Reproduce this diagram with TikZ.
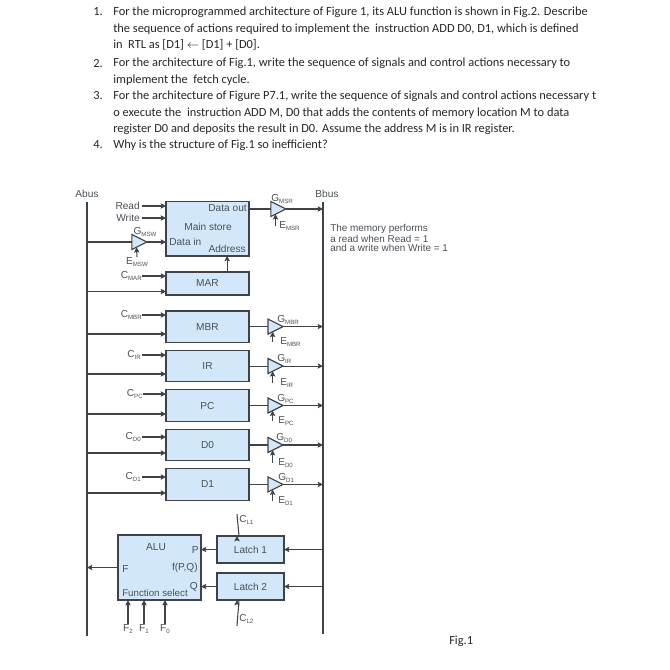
\documentclass[tikz,border=0pt]{standalone}
\usepackage{fontspec}
\setmainfont{Liberation Sans}
\newfontfamily\qfont{Carlito}
\usepackage{xcolor}
\usetikzlibrary{shapes.geometric, arrows.meta, positioning}
\definecolor{boxblue}{HTML}{D2E8FA}
\definecolor{inkgray}{HTML}{3E4348}
\definecolor{labgray}{HTML}{4A4F55}
\newcommand{\sig}[2]{#1\raisebox{-1.5pt}{\fontsize{4.6pt}{4.6pt}\selectfont #2}}

\begin{document}
\begin{tikzpicture}[
        x=0.75pt, y=-0.75pt,
        regbox/.style={rectangle, draw=inkgray, fill=boxblue, line width=1pt, minimum width=62.25pt, minimum height=23.6pt, inner sep=0pt, outer sep=0pt, text=labgray, font=\fontsize{7.6}{8}\selectfont},
        buffer/.style={isosceles triangle, isosceles triangle stretches, draw=inkgray, fill=boxblue, line width=0.9pt, minimum width=11.25pt, minimum height=11.25pt, inner sep=0pt, outer sep=0pt},
        lab/.style={inner sep=0pt, text=labgray, font=\fontsize{7.6}{8}\selectfont},
        qtext/.style={anchor=north west, inner sep=0pt, align=left, text=black!85, font=\qfont\fontsize{9.3}{12.4}\selectfont, execute at begin node=\strut},
        arr/.style={-{Stealth[length=4pt, width=4pt, inset=0.8pt]}, line width=0.8pt, draw=inkgray},
        wire/.style={line width=0.8pt, draw=inkgray},
        bus/.style={line width=1.1pt, draw=inkgray}
    ]
        \useasboundingbox (0,0) rectangle (670,669);

        % questions
        \node[qtext] (n1) at (93,4) {1.};
        \node[qtext] (q1) at (113,7) {For the microprogrammed architecture of Figure 1, its ALU function is shown in Fig.2. Describe\\the sequence of actions required to implement the\ \ instruction ADD D0, D1, which is defined\\in\ \ RTL as [D1] $\leftarrow$ [D1] + [D0].};
        \node[qtext] (n2) at (93,56) {2.};
        \node[qtext] (q2) at (113,58) {For the architecture of Fig.1, write the sequence of signals and control actions necessary to\\implement the\ \ fetch cycle.};
        \node[qtext] (n3) at (93,88) {3.};
        \node[qtext] (q3) at (113,91) {For the architecture of Figure P7.1, write the sequence of signals and control actions necessary t\\o execute the\ \ instruction ADD M, D0 that adds the contents of memory location M to data\\register D0 and deposits the result in D0. Assume the address M is in IR register.};
        \node[qtext] (n4) at (93,137) {4.};
        \node[qtext] (q4) at (113,137) {Why is the structure of Fig.1 so inefficient?};
        \node[qtext] (figlab) at (449,633) {Fig.1};

        % buses
        \coordinate (abustop) at (87,202);
        \coordinate (abusbot) at (87,636);
        \coordinate (bbustop) at (323,202);
        \coordinate (bbusbot) at (323,634);
        \node[lab, above=3pt of abustop] (abuslab) {Abus};
        \node[lab, above=3pt of bbustop, xshift=3pt] (bbuslab) {Bbus};
        \draw[bus] (abustop) -- (abusbot);
        \draw[bus] (bbustop) -- (bbusbot);

        % registers
        \node[regbox, minimum height=41pt] (store) at (207.5,228.5) {};
        \node[regbox, below=12pt of store, minimum height=17.25pt] (mar) {MAR};
        \node[regbox, below=12pt of mar] (mbr) {MBR};
        \node[regbox, below=6pt of mbr] (ir) {IR};
        \node[regbox, below=6pt of ir] (pc) {PC};
        \node[regbox, below=6pt of pc] (dzero) {D0};
        \node[regbox, below=6pt of dzero] (done) {D1};
        \node[lab, anchor=east] (dataout) at (247,208) {Data out};
        \node[lab] (mainstore) at (208,227) {Main store};
        \node[lab, anchor=west] (datain) at (169,242) {Data in};
        \node[lab, anchor=east] (address) at (246,249) {Address};

        % ALU and latches
        \node[regbox, minimum width=62.25pt, minimum height=48.75pt] (alu) at (159.5,567.5) {};
        \node[regbox, minimum width=50.25pt, minimum height=20.25pt] (latchone) at (250.5,549.5) {Latch 1};
        \node[regbox, below=7.5pt of latchone, minimum width=50.25pt, minimum height=20.25pt] (latchtwo) {Latch 2};
        \node[lab] (alulab) at (156,547) {ALU};
        \node[lab, anchor=east] (plab) at (199,550) {P};
        \node[lab, anchor=east] (fpq) at (198,568) {f(P,Q)};
        \node[lab, anchor=west] (flab) at (122,569) {F};
        \node[lab, anchor=east] (qlab) at (198,587) {Q};
        \node[lab, anchor=west, font=\fontsize{7.3}{8}\selectfont] (fsel) at (122,593) {Function select};

        % buffers
        \node[buffer] (gmsr) at (275.5,209) {};
        \node[buffer] (gmsw) at (136.5,242) {};
        \node[buffer, right=14.25pt of mbr] (gmbr) {};
        \node[buffer, right=14.25pt of ir] (gir) {};
        \node[buffer, right=14.25pt of pc] (gpc) {};
        \node[buffer, right=14.25pt of dzero] (gdzero) {};
        \node[buffer, right=14.25pt of done] (gdone) {};

        % signal labels
        \node[lab, anchor=east] (read) at (140,206) {Read};
        \node[lab, anchor=east] (write) at (140,218) {Write};
        \node[lab, anchor=east] (cmar) at (142,276) {\sig{C}{MAR}};
        \node[lab, anchor=east] (cmbr) at (142,315) {\sig{C}{MBR}};
        \node[lab, anchor=east] (cir) at (141,355) {\sig{C}{IR}};
        \node[lab, anchor=east] (cpc) at (143,394) {\sig{C}{PC}};
        \node[lab, anchor=east] (cdzero) at (141,437) {\sig{C}{D0}};
        \node[lab, anchor=east] (cdone) at (141,477) {\sig{C}{D1}};
        \node[lab] (lgmsw) at (145,232) {\sig{G}{MSW}};
        \node[lab, anchor=north] (emsw) at (137,257) {\sig{E}{MSW}};
        \node[lab, anchor=west] (lgmsr) at (271,199) {\sig{G}{MSR}};
        \node[lab, anchor=west] (lgmbr) at (277,320) {\sig{G}{MBR}};
        \node[lab, anchor=west] (lgir) at (277,359) {\sig{G}{IR}};
        \node[lab, anchor=west] (lgpc) at (277,399) {\sig{G}{PC}};
        \node[lab, anchor=west] (lgdzero) at (276,438) {\sig{G}{D0}};
        \node[lab, anchor=west] (lgdone) at (278,478) {\sig{G}{D1}};
        \node[lab, anchor=west] (emsr) at (279,226) {\sig{E}{MSR}};
        \node[lab, anchor=west] (embr) at (280,342) {\sig{E}{MBR}};
        \node[lab, anchor=west] (eir) at (280,383) {\sig{E}{IR}};
        \node[lab, anchor=west] (epc) at (278,421) {\sig{E}{PC}};
        \node[lab, anchor=west] (edzero) at (278,463) {\sig{E}{D0}};
        \node[lab, anchor=west] (edone) at (278,501) {\sig{E}{D1}};
        \node[lab, anchor=west] (clone) at (239,520) {\sig{C}{L1}};
        \node[lab, anchor=west] (cltwo) at (239,619) {\sig{C}{L2}};
        \node[lab] (ftwo) at (128,629) {\sig{F}{2}};
        \node[lab] (fone) at (144,629) {\sig{F}{1}};
        \node[lab] (fzero) at (165,629) {\sig{F}{0}};
        \node[lab, anchor=west, align=left, font=\fontsize{7.45}{6.9}\selectfont] (memnote) at (330,238) {The memory performs\\a read when Read = 1\\and a write when Write = 1};

        % store connections
        \draw[arr] (read.east) ++(2,0) -- (store.west |- read.east);
        \draw[arr] (write.east) ++(2,0) -- (store.west |- write.east);
        \draw[wire] (abustop |- gmsw.west) -- (gmsw.west);
        \draw[arr] (gmsw.east) -- (store.west |- gmsw.east);
        \draw[arr] (emsw.north) -- (gmsw.south);
        \draw[wire] (store.east |- gmsr.west) -- (gmsr.west);
        \draw[arr] (gmsr.east) -- (bbustop |- gmsr.east);
        \draw[arr] (gmsr.south |- emsr.center) -- (gmsr.south);
        \draw[arr] (mar.north -| address.center) -- (store.south -| address.center);

        % register inputs
        \draw[arr] (cmar.east) -- (mar.west |- cmar.east);
        \draw[arr] (cmbr.east) -- (mbr.west |- cmbr.east);
        \draw[arr] (cir.east) ++(1,0) -- (ir.west |- cir.east);
        \draw[arr] (cpc.east) -- (pc.west |- cpc.east);
        \draw[arr] (cdzero.east) ++(1,0) -- (dzero.west |- cdzero.east);
        \draw[arr] (cdone.east) ++(1,0) -- (done.west |- cdone.east);
        \draw[arr] (abustop |- 0,291.5) -- (mar.west |- 0,291.5);
        \draw[arr] (abustop |- 0,334) -- (mbr.west |- 0,334);
        \draw[arr] (abustop |- 0,374) -- (ir.west |- 0,374);
        \draw[arr] (abustop |- 0,414) -- (pc.west |- 0,414);
        \draw[arr] (abustop |- 0,453) -- (dzero.west |- 0,453);
        \draw[arr] (abustop |- 0,493) -- (done.west |- 0,493);

        % register outputs
        \draw[wire] (mbr.east) -- (gmbr.west);
        \draw[wire] (ir.east) -- (gir.west);
        \draw[wire] (pc.east) -- (gpc.west);
        \draw[wire] (dzero.east) -- (gdzero.west);
        \draw[wire] (done.east) -- (gdone.west);
        \draw[arr] (gmbr.east) -- (bbustop |- gmbr.east);
        \draw[arr] (gir.east) -- (bbustop |- gir.east);
        \draw[arr] (gpc.east) -- (bbustop |- gpc.east);
        \draw[arr] (gdzero.east) -- (bbustop |- gdzero.east);
        \draw[arr] (gdone.east) -- (bbustop |- gdone.east);
        \draw[arr] (gmbr.south |- embr.center) -- (gmbr.south);
        \draw[arr] (gir.south |- eir.center) -- (gir.south);
        \draw[arr] (gpc.south |- epc.center) -- (gpc.south);
        \draw[arr] (gdzero.south |- edzero.center) -- (gdzero.south);
        \draw[arr] (gdone.south |- edone.center) -- (gdone.south);

        % ALU connections
        \draw[arr] (bbustop |- latchone.east) -- (latchone.east);
        \draw[arr] (bbustop |- latchtwo.east) -- (latchtwo.east);
        \draw[arr] (latchone.west) -- (alu.east |- latchone.west);
        \draw[arr] (latchtwo.west) -- (alu.east |- latchtwo.west);
        \draw[arr] (alu.west) -- (abustop |- alu.west);
        \draw[arr] (clone.north west) ++(-2,-1) -- (latchone.north -| clone.west) ++(-2,0);
        \draw[arr] (cltwo.south west) ++(-2,2) -- (latchtwo.south -| cltwo.west) ++(-2,0);
        \draw[arr] (ftwo.north) -- (alu.south -| ftwo.north);
        \draw[arr] (fone.north) -- (alu.south -| fone.north);
        \draw[arr] (fzero.north) -- (alu.south -| fzero.north);
    \end{tikzpicture}
\end{document}
